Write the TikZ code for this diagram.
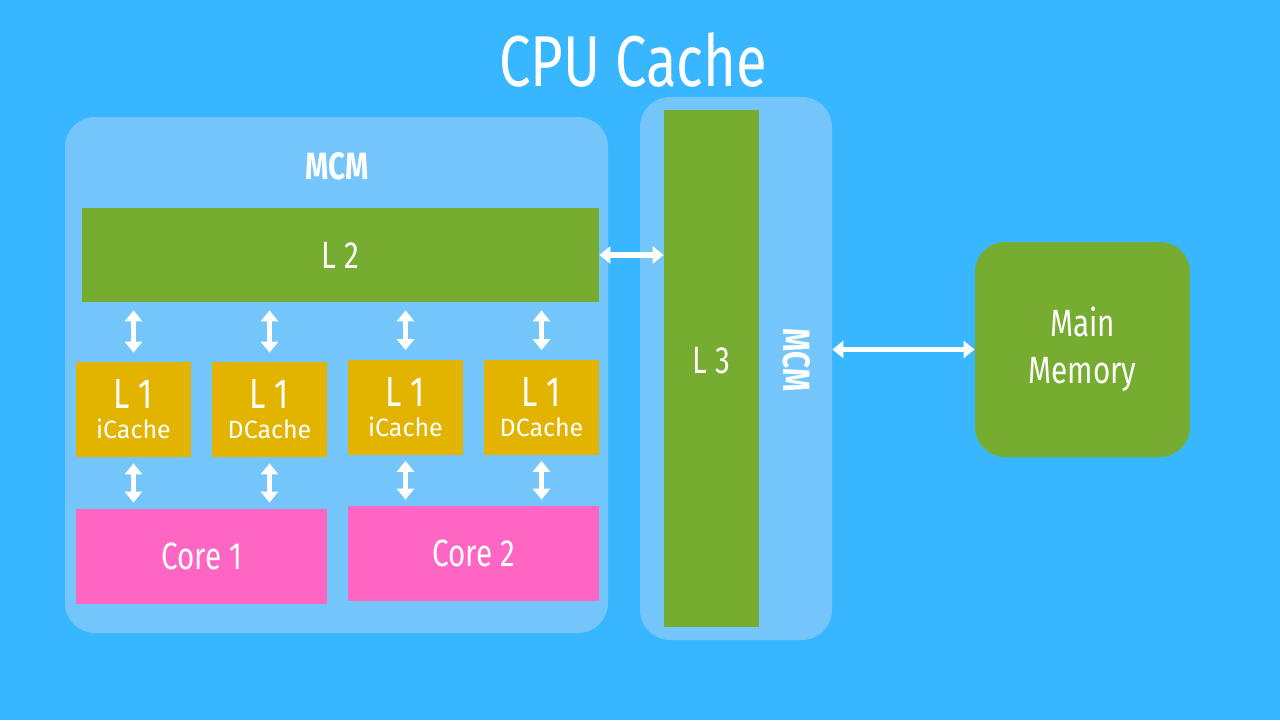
\documentclass[tikz,border=0pt]{standalone}
\usepackage{fontspec}
\setmainfont[FakeStretch=0.78]{Fira Sans}
\usetikzlibrary{arrows.meta}
\definecolor{CanvaBlue}{RGB}{56,182,255}
\definecolor{PanelBlue}{RGB}{116,198,250}
\definecolor{CacheGreen}{RGB}{118,172,47}
\definecolor{CacheGold}{RGB}{226,180,0}
\definecolor{CorePink}{RGB}{255,102,196}

\begin{document}
\begin{tikzpicture}[x=0.5pt,y=-0.5pt,
   blk/.style n args={3}{fill=#1,minimum width=#2*0.5pt,minimum height=#3*0.5pt,inner sep=0pt,text=white,align=center},
   panel/.style n args={2}{blk={PanelBlue}{#1}{#2},rounded corners=15pt},
   big/.style={font=\fontsize{19}{23.5}\selectfont},
   link/.style={white,line width=2.6pt,{Triangle[width=8.5pt,length=5.5pt]}-{Triangle[width=8.5pt,length=5.5pt]}}]
\fill[CanvaBlue] (0,0) rectangle (1280,720);
\node[text=white,font=\fontsize{36}{40}\selectfont] (title) at (633,60) {CPU Cache};
\node[panel={543}{516}] (mcml) at (336.5,375) {};
\node[panel={192}{543}] (mcmr) at (736,368.5) {};
\node[text=white,font=\fontsize{19}{20}\bfseries] (mcmltxt) at (337,166) {MCM};
\node[text=white,font=\fontsize{19}{20}\bfseries,rotate=-90] (mcmrtxt) at (797,360) {MCM};
\node[blk={CacheGreen}{517}{94},big] (l2) at (340.5,255) {L 2};
\node[blk={CacheGreen}{95}{517}] (l3) at (711.5,368.5) {};
\node[text=white,big] (l3txt) at ([yshift=4pt]l3.center) {L 3};
\node[blk={CacheGreen}{215}{215},rounded corners=15pt,big] (mem) at (1082.5,349.5) {Main\\Memory};
\foreach \n/\x/\y/\t in %
{a/133.5/409.5/iCache,b/269.5/409.5/DCache,c/405.5/407/iCache,d/541.5/407/DCache} {
   \node[blk={CacheGold}{115}{95}] (l1\n) at (\x,\y)
      {{\fontsize{21}{22}\selectfont L 1}\\[3pt]{\fontsize{12.5}{14}\selectfont\addfontfeature{FakeStretch=1}\t}};
}
\node[blk={CorePink}{251}{95},big] (core1) at (201.5,556.5) {Core 1};
\node[blk={CorePink}{251}{95},big] (core2) at (473.5,553.5) {Core 2};
\foreach \n/\c in %
{a/1,b/1,c/2,d/2} {
   \draw[link,shorten <=4pt,shorten >=4.5pt] (l2.south -| l1\n.north) -- (l1\n.north);
   \draw[link,shorten <=3pt,shorten >=3pt] (l1\n.south) -- (l1\n.south |- core\c.north);
}
\draw[link] (l2.east) -- (l2.east -| l3.west);
\draw[link] (mem.west -| mcmr.east) -- (mem.west);
\end{tikzpicture}
\end{document}
